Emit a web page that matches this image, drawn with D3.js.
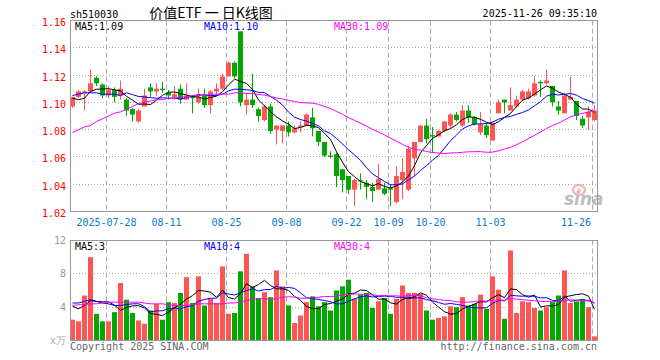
<!DOCTYPE html>
<html>
<head>
<meta charset="utf-8">
<script src="https://cdn.jsdelivr.net/npm/d3@7/dist/d3.min.js"></script>
<style>
  body { margin: 0; background: #fff; }
  svg text { font-family: "DejaVu Sans Mono", monospace; font-size: 10px; }
</style>
</head>
<body>
<div id="chart"></div>
<script>
// trading days shown (MM-DD, 2025)
const dates = [
  "07-18","07-21","07-22","07-23","07-24","07-25","07-28","07-29","07-30","07-31",
  "08-01","08-04","08-05","08-06","08-07","08-08","08-11","08-12","08-13","08-14","08-15",
  "08-18","08-19","08-20","08-21","08-22","08-25","08-26","08-27","08-28","08-29",
  "09-01","09-02","09-03","09-04","09-05","09-08","09-09","09-10","09-11","09-12",
  "09-15","09-16","09-17","09-18","09-19","09-22","09-23","09-24","09-25","09-26","09-29","09-30",
  "10-09","10-10","10-13","10-14","10-15","10-16","10-17","10-20","10-21","10-22","10-23","10-24",
  "10-27","10-28","10-29","10-30","10-31",
  "11-03","11-04","11-05","11-06","11-07","11-10","11-11","11-12","11-13","11-14",
  "11-17","11-18","11-19","11-20","11-21","11-24","11-25","11-26"
];

const open = [
  1.097,1.104,1.107,1.108,1.118,1.113,1.105,1.109,1.105,1.102,
  1.095,1.086,1.097,1.111,1.108,1.110,1.107,1.104,1.110,1.102,1.104,
  1.100,1.106,1.098,1.108,1.110,1.119,1.129,1.152,1.098,1.102,
  1.095,1.087,1.097,1.080,1.079,1.083,1.078,1.082,1.083,1.089,
  1.079,1.071,1.061,1.062,1.051,1.046,1.036,1.043,1.041,1.038,1.036,1.037,
  1.037,1.027,1.043,1.036,1.059,1.071,1.083,1.076,1.075,1.079,1.083,1.091,
  1.083,1.094,1.089,1.078,1.083,
  1.072,1.092,1.102,1.094,1.097,1.102,1.103,1.105,1.115,1.114,
  1.112,1.097,1.092,1.102,1.101,1.088,1.089,1.087
];
const high = [
  1.104,1.109,1.109,1.124,1.119,1.114,1.112,1.111,1.116,1.103,
  1.096,1.095,1.110,1.114,1.114,1.115,1.109,1.112,1.113,1.114,1.105,
  1.110,1.110,1.109,1.114,1.121,1.130,1.130,1.152,1.107,1.121,
  1.096,1.098,1.099,1.083,1.083,1.086,1.083,1.086,1.092,1.096,
  1.079,1.071,1.064,1.063,1.051,1.046,1.044,1.048,1.043,1.041,1.055,1.041,
  1.040,1.053,1.059,1.068,1.071,1.083,1.088,1.082,1.080,1.086,1.092,1.093,
  1.098,1.098,1.090,1.093,1.085,
  1.086,1.102,1.102,1.111,1.105,1.109,1.110,1.119,1.116,1.124,
  1.112,1.101,1.107,1.119,1.101,1.090,1.097,1.098
];
const low = [
  1.096,1.103,1.094,1.107,1.112,1.103,1.103,1.100,1.102,1.090,
  1.086,1.085,1.097,1.104,1.105,1.107,1.102,1.102,1.099,1.102,1.092,
  1.099,1.096,1.092,1.105,1.109,1.119,1.118,1.097,1.091,1.096,
  1.086,1.086,1.077,1.069,1.070,1.075,1.077,1.078,1.083,1.075,
  1.068,1.060,1.059,1.038,1.034,1.033,1.024,1.036,1.029,1.027,1.036,1.032,
  1.024,1.026,1.029,1.035,1.046,1.071,1.070,1.063,1.075,1.078,1.081,1.086,
  1.082,1.085,1.083,1.076,1.074,
  1.072,1.092,1.092,1.094,1.096,1.101,1.102,1.104,1.104,1.113,
  1.097,1.091,1.092,1.102,1.087,1.081,1.080,1.086
];
const close = [
  1.104,1.108,1.108,1.114,1.114,1.105,1.109,1.104,1.110,1.094,
  1.091,1.094,1.105,1.108,1.110,1.109,1.105,1.106,1.102,1.105,1.103,
  1.104,1.098,1.108,1.110,1.119,1.129,1.119,1.100,1.102,1.098,
  1.090,1.097,1.079,1.083,1.083,1.078,1.081,1.083,1.091,1.081,
  1.071,1.061,1.060,1.046,1.043,1.036,1.043,1.042,1.038,1.035,1.044,1.033,
  1.036,1.046,1.049,1.066,1.071,1.083,1.073,1.075,1.079,1.086,1.091,1.087,
  1.094,1.089,1.084,1.084,1.076,
  1.085,1.100,1.100,1.098,1.102,1.108,1.108,1.114,1.114,1.116,
  1.100,1.094,1.105,1.104,1.090,1.083,1.093,1.094
];
// volume, unit 万
const volume = [
  2.5,2.3,5.4,10.0,3.2,2.3,2.3,3.4,6.9,4.9,
  3.3,2.4,2.0,3.6,4.4,2.5,4.6,4.5,5.7,7.6,4.5,
  7.7,4.2,5.0,4.5,8.9,3.2,3.3,8.3,10.4,6.5,
  5.1,5.8,5.2,8.4,6.5,4.2,2.1,3.0,4.6,5.3,
  4.1,4.6,3.6,6.0,6.5,7.3,5.0,5.5,5.7,3.9,4.7,5.1,
  3.2,5.0,6.6,5.7,5.7,5.6,3.6,2.5,2.7,2.9,4.1,4.0,
  5.2,4.2,4.4,5.5,3.8,
  7.7,6.1,2.6,10.8,3.3,4.7,4.6,3.9,3.6,4.0,
  4.6,5.4,8.4,4.5,4.7,5.0,4.0,0.5
];

// moving-average values before a full window exists
const ma5Head = [1.103,1.102,1.103,1.108];
const ma10Head = [1.105,1.106,1.107,1.107,1.107,1.106,1.106,1.106,1.105];
const ma30Head = [
  1.078,1.080,1.082,1.083,1.086,1.088,1.090,1.092,1.093,1.095,
  1.097,1.099,1.100,1.101,1.102,1.102,1.103,1.103,1.104,1.104,
  1.105,1.105,1.105,1.106,1.106,1.106,1.106,1.107,1.107
];
const volMa5Head = [4.1,3.8,4.2,4.8];
const volMa10Head = [4.5,4.5,4.7,4.9,4.7,4.5,4.4,4.2,4.2];
const volMa30Head = [
  4.2,4.3,4.3,4.4,4.4,4.5,4.6,4.6,4.6,4.6,
  4.6,4.6,4.5,4.4,4.4,4.4,4.3,4.2,4.2,4.2,
  4.3,4.4,4.4,4.4,4.4,4.4,4.5,4.5,4.6
];

const priceTicks = [1.16,1.14,1.12,1.10,1.08,1.06,1.04,1.02];
const volTicks = [12,8,4];
const tickDates = ["07-28","08-11","08-25","09-08","09-22","10-09","10-20","11-03","11-26"];
const tickLabels = ["2025-07-28","08-11","08-25","09-08","09-22","10-09","10-20","11-03","11-26"];

const UP = "#ff5555";
const DOWN = "#00a800";
const GRID = "#aaa";
const MA_COLORS = ["#000", "#0000ff", "#ff00ff"];

const LEFT = 70, RIGHT = 598;
const P_TOP = 20.5, P_BOTTOM = 211.5;
const V_TOP = 240.5, V_BOTTOM = 340.5;

function movingAvg(values, n, head) {
  return values.map((v, i) =>
    i < n - 1 ? head[i] : d3.mean(values.slice(i - n + 1, i + 1)));
}

const idx = d3.range(dates.length);
const isUp = idx.map(i => close[i] > open[i] ||
  (close[i] === open[i] && (i === 0 || close[i] >= close[i - 1])));

const svg = d3.select("#chart")
  .append("svg")
    .attr("width", 660)
    .attr("height", 360);

const x = d3.scaleBand()
  .domain(dates)
  .range([LEFT, RIGHT])
  .padding(0);

const y = d3.scaleLinear()
  .domain([1.02, 1.16])
  .range([P_BOTTOM, P_TOP]);

const yv = d3.scaleLinear()
  .domain([0, 12])
  .range([V_BOTTOM, V_TOP]);

const snap = v => Math.round(v - 0.5) + 0.5;

// header
svg.append("text")
  .attr("x", 70).attr("y", 17.5)
  .attr("fill", "#000")
  .text("sh510030");

svg.append("text")
  .attr("x", 211).attr("y", 18)
  .attr("text-anchor", "middle")
  .style("font-family", "'Noto Sans CJK SC', sans-serif")
  .style("font-size", "14px")
  .attr("fill", "#000")
  .text("价值ETF 一 日K线图");

svg.append("text")
  .attr("x", 597).attr("y", 16.5)
  .attr("text-anchor", "end")
  .attr("fill", "#000")
  .text("2025-11-26 09:35:10");

// grids
function panelGrid(top, bottom, hTicks, yScale) {
  svg.append("g")
    .selectAll("line")
    .data(hTicks)
    .join("line")
      .attr("x1", LEFT).attr("x2", RIGHT)
      .attr("y1", d => snap(yScale(d)))
      .attr("y2", d => snap(yScale(d)))
      .attr("stroke", GRID)
      .attr("stroke-dasharray", "1,2");

  svg.append("g")
    .selectAll("line")
    .data(tickDates)
    .join("line")
      .attr("x1", d => x(d) + 0.5).attr("x2", d => x(d) + 0.5)
      .attr("y1", top).attr("y2", bottom)
      .attr("stroke", GRID)
      .attr("stroke-dasharray", "5,3");
}

panelGrid(P_TOP, P_BOTTOM, priceTicks.filter(d => d < 1.16 && d > 1.02), y);
panelGrid(V_TOP, V_BOTTOM, volTicks.filter(d => d < 12), yv);

// sina watermark
const mark = svg.append("g").attr("opacity", 0.55);
mark.append("ellipse")
  .attr("cx", 579).attr("cy", 190)
  .attr("rx", 6).attr("ry", 5)
  .attr("fill", "none")
  .attr("stroke", "#f08080")
  .attr("stroke-width", 2.5);
mark.append("circle")
  .attr("cx", 579).attr("cy", 190)
  .attr("r", 1.8)
  .attr("fill", "#f08080");
mark.append("text")
  .attr("x", 564).attr("y", 205)
  .style("font-family", "'DejaVu Sans', sans-serif")
  .style("font-size", "17px")
  .style("font-weight", "bold")
  .style("font-style", "italic")
  .attr("fill", "#888")
  .text("sina");

// candles
const candles = svg.append("g")
  .selectAll("g")
  .data(idx)
  .join("g");

candles.append("line")
  .attr("x1", i => x(dates[i]) + 2.5)
  .attr("x2", i => x(dates[i]) + 2.5)
  .attr("y1", i => y(high[i]))
  .attr("y2", i => y(low[i]))
  .attr("stroke", i => isUp[i] ? UP : DOWN);

candles.append("rect")
  .attr("x", i => x(dates[i]))
  .attr("width", x.bandwidth() - 1)
  .attr("y", i => y(Math.max(open[i], close[i])))
  .attr("height", i => Math.max(1, Math.abs(y(open[i]) - y(close[i]))))
  .attr("fill", i => isUp[i] ? UP : DOWN);

// volume bars
svg.append("g")
  .selectAll("rect")
  .data(idx)
  .join("rect")
    .attr("x", i => x(dates[i]))
    .attr("width", x.bandwidth() - 1)
    .attr("y", i => yv(volume[i]))
    .attr("height", i => yv(0) - yv(volume[i]))
    .attr("fill", i => isUp[i] ? UP : DOWN);

// moving averages
const priceMa = [
  movingAvg(close, 5, ma5Head),
  movingAvg(close, 10, ma10Head),
  movingAvg(close, 30, ma30Head)
];
const volMa = [
  movingAvg(volume, 5, volMa5Head),
  movingAvg(volume, 10, volMa10Head),
  movingAvg(volume, 30, volMa30Head)
];

function drawLines(series, scale) {
  series.forEach((vals, k) => {
    const line = d3.line()
      .x((d, i) => x(dates[i]) + 2.5)
      .y(d => scale(d));
    svg.append("path")
      .attr("d", line(vals))
      .attr("fill", "none")
      .attr("stroke", MA_COLORS[k])
      .attr("stroke-width", 1);
  });
}

drawLines(priceMa, y);
drawLines(volMa, yv);

// borders
[[P_TOP, P_BOTTOM], [V_TOP, V_BOTTOM]].forEach(([t, b]) => {
  svg.append("rect")
    .attr("x", LEFT + 0.5).attr("y", t)
    .attr("width", RIGHT - LEFT - 1).attr("height", b - t)
    .attr("fill", "none")
    .attr("stroke", "#999");
});

// MA labels
const maNames = ["MA5", "MA10", "MA30"];
const maX = [75, 204, 334];
maNames.forEach((name, k) => {
  svg.append("text")
    .attr("x", maX[k]).attr("y", 30)
    .attr("fill", MA_COLORS[k])
    .text(`${name}:${priceMa[k][priceMa[k].length - 1].toFixed(2)}`);
  svg.append("text")
    .attr("x", maX[k]).attr("y", 250)
    .attr("fill", MA_COLORS[k])
    .text(`${name}:${Math.floor(volMa[k][volMa[k].length - 1])}`);
});

// price axis labels
svg.append("g")
  .selectAll("text")
  .data(priceTicks)
  .join("text")
    .attr("x", 66)
    .attr("y", d => y(d) + 5.5)
    .attr("text-anchor", "end")
    .attr("fill", "#ff0000")
    .text(d => d.toFixed(2));

// volume axis labels
svg.append("g")
  .selectAll("text")
  .data(volTicks)
  .join("text")
    .attr("x", 66)
    .attr("y", d => yv(d) + 3.5)
    .attr("text-anchor", "end")
    .attr("fill", "#999")
    .text(d => d);

svg.append("text")
  .attr("x", 66).attr("y", 344)
  .attr("text-anchor", "end")
  .attr("fill", "#aaa")
  .text("x万");

// date labels
svg.append("g")
  .selectAll("text")
  .data(tickDates)
  .join("text")
    .attr("x", (d, i) => i === tickDates.length - 1 ? x(d) - 1 : x(d) + 0.5)
    .attr("y", 225.5)
    .attr("text-anchor", (d, i) => i === tickDates.length - 1 ? "end" : "middle")
    .attr("fill", "#0a7ad2")
    .text((d, i) => tickLabels[i]);

// footer
svg.append("text")
  .attr("x", 70).attr("y", 349.5)
  .attr("fill", "#666")
  .text("Copyright 2025 SINA.COM");

svg.append("text")
  .attr("x", 597).attr("y", 349.5)
  .attr("text-anchor", "end")
  .attr("fill", "#666")
  .text("http://finance.sina.com.cn");
</script>
</body>
</html>
